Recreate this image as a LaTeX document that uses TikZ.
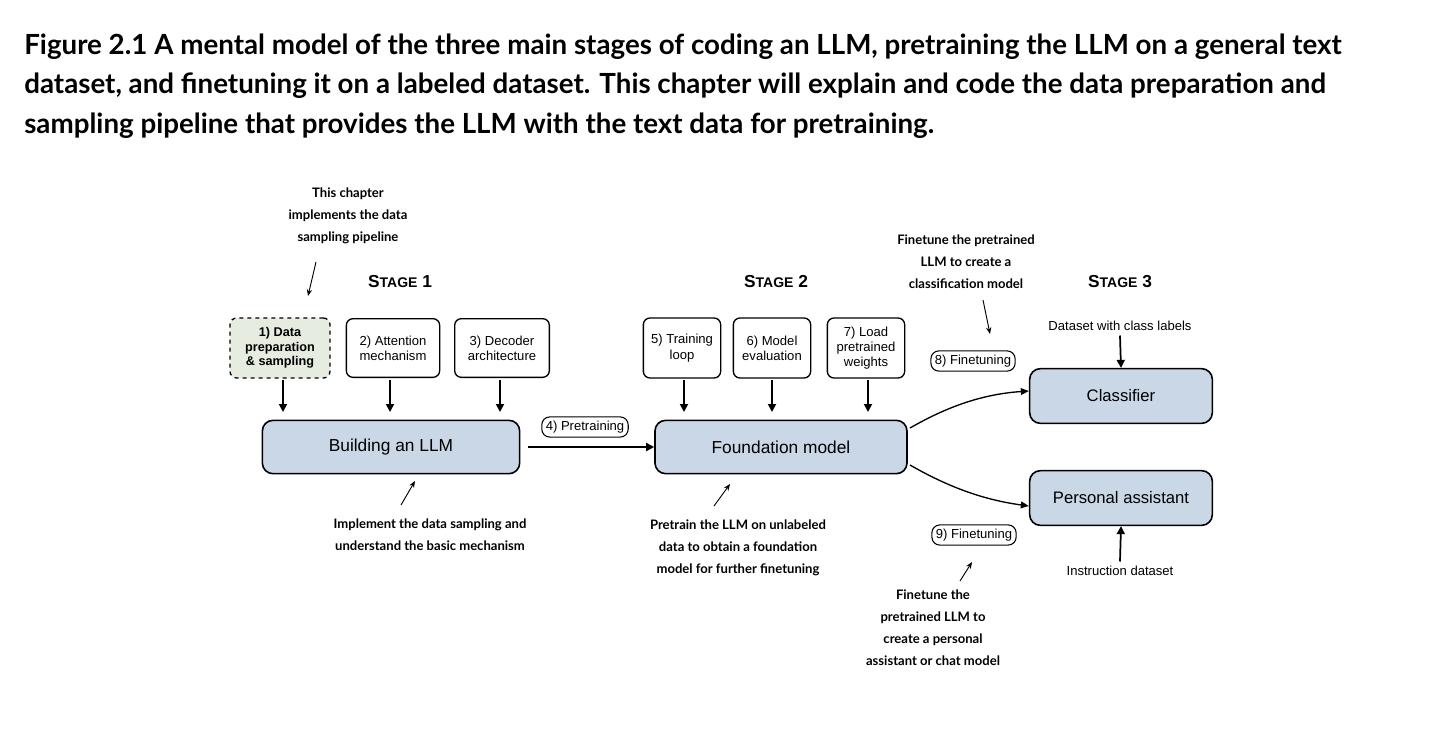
\documentclass[tikz,border=0pt]{standalone}
\usepackage{fontspec}
\setmainfont{Liberation Sans}
\newfontfamily\capfont{Lato}
\usetikzlibrary{arrows.meta}
\definecolor{boxblue}{HTML}{C9D7E6}
\definecolor{boxgreen}{HTML}{E6EDE0}
\begin{document}
\begin{tikzpicture}[x=0.75pt,y=-0.75pt,
 sm/.style={draw,rounded corners=5pt,line width=1pt,align=center,font=\fontsize{9.8}{11.5}\selectfont,inner sep=0pt},
 big/.style={draw,rounded corners=8pt,line width=1.2pt,fill=boxblue,font=\fontsize{13}{15}\selectfont,inner sep=0pt},
 pill/.style={draw,rounded corners=6pt,line width=0.8pt,font=\fontsize{9.8}{11}\selectfont,inner xsep=3pt,inner ysep=3pt},
 ann/.style={align=center,font=\capfont\bfseries\fontsize{9.8}{16.5}\selectfont},
 stg/.style={font=\bfseries\fontsize{13}{15}\selectfont},
 arr/.style={-{Triangle[length=6pt,width=6pt]},line width=1.3pt},
 thin/.style={-{Stealth[length=5pt,width=4pt]},line width=0.7pt},
 curv/.style={-{Triangle[length=6pt,width=5pt]},line width=1pt}]
\useasboundingbox (0,0) rectangle (1450,732);
\node[anchor=north west,align=left,font=\capfont\bfseries\fontsize{20.8}{29.3}\selectfont,inner sep=0pt] (cap) at (24,34)
 {Figure 2.1 A mental model of the three main stages of coding an LLM, pretraining the LLM on a general text\\
 dataset, and finetuning it on a labeled dataset. This chapter will explain and code the data preparation and\\
 sampling pipeline that provides the LLM with the text data for pretraining.};
% stage labels
\node[stg] (s1) at (400,282) {S{\fontsize{10.5}{12}\selectfont TAGE} 1};
\node[stg] (s2) at (776,282) {S{\fontsize{10.5}{12}\selectfont TAGE} 2};
\node[stg] (s3) at (1120,282) {S{\fontsize{10.5}{12}\selectfont TAGE} 3};
% stage 1
\node[sm,dashed,fill=boxgreen,minimum width=75pt,minimum height=45pt,font=\bfseries\fontsize{9.5}{11}\selectfont] (b1) at (280,348) {1) Data\\preparation\\\& sampling};
\node[sm,minimum width=70pt,minimum height=44pt] (b2) at (393,348) {2) Attention\\mechanism};
\node[sm,minimum width=71pt,minimum height=44pt] (b3) at (502,348) {3) Decoder\\architecture};
\node[big,minimum width=193pt,minimum height=40pt] (llm) at (391,447) {Building an LLM};
\draw[arr] (283,380) -- (283,412);
\draw[arr] (390,380) -- (390,412);
\draw[arr] (500,380) -- (500,412);
% pretraining
\node[pill] (p4) at (585,427) {4) Pretraining};
\node[big,minimum width=189pt,minimum height=40pt] (fm) at (781,447) {Foundation model};
\draw[arr] (llm.east)++(8,0) coordinate (a0) -- (fm.west) ;
% stage 2
\node[sm,minimum width=58pt,minimum height=45pt] (b5) at (682,348) {5) Training\\loop};
\node[sm,minimum width=58pt,minimum height=45pt] (b6) at (772,348) {6) Model\\evaluation};
\node[sm,minimum width=58pt,minimum height=45pt] (b7) at (866,348) {7) Load\\pretrained\\weights};
\draw[arr] (684,380) -- (684,412);
\draw[arr] (772,380) -- (772,412);
\draw[arr] (868,380) -- (868,412);
% stage 3
\node[big,minimum width=137pt,minimum height=41pt,font=\fontsize{12.5}{15}\selectfont] (cl) at (1121,396) {Classifier};
\node[big,minimum width=137pt,minimum height=41pt,font=\fontsize{12.5}{15}\selectfont] (pa) at (1121,498) {Personal assistant};
\node[pill] (f8) at (973,361) {8) Finetuning};
\node[pill] (f9) at (974,535) {9) Finetuning};
\draw[curv] (910,428) .. controls (950,405) and (985,394) .. (cl.west|-0,391);
\draw[curv] (910,465) .. controls (950,488) and (985,500) .. (pa.west|-0,506);
\node[font=\fontsize{9.8}{11}\selectfont] (dl) at (1120,326) {Dataset with class labels};
\node[font=\fontsize{9.8}{11}\selectfont] (id) at (1120,571) {Instruction dataset};
\draw[arr] (dl.south) -- (cl.north);
\draw[arr] (id.north) -- (pa.south);
% annotations
\node[ann] (a1) at (348,216) {This chapter\\implements the data\\sampling pipeline};
\node[ann] (a2) at (966,262) {Finetune the pretrained\\LLM to create a\\classification model};
\node[ann] (a3) at (430,535) {Implement the data sampling and\\understand the basic mechanism};
\node[ann] (a4) at (738,548) {Pretrain the LLM on unlabeled\\data to obtain a foundation\\model for further finetuning};
\node[ann] (a5) at (933,628) {Finetune the\\pretrained LLM to\\create a personal\\assistant or chat model};
\draw[thin] (316,262) -- (308,296);
\draw[thin] (983,300) -- (990,334);
\draw[thin] (401,505) -- (415,481);
\draw[thin] (714,506) -- (730,484);
\draw[thin] (960,581) -- (972,562);
\end{tikzpicture}
\end{document}
